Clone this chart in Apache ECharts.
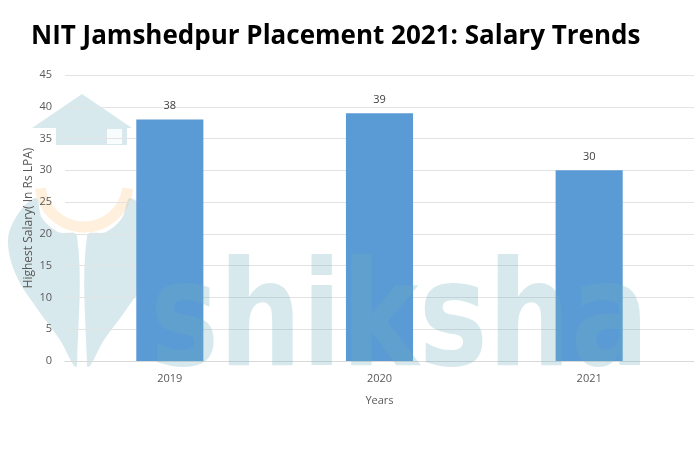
<!DOCTYPE html>
<html>
<head>
<meta charset="utf-8">
<script src="https://cdn.jsdelivr.net/npm/echarts@6/dist/echarts.min.js"></script>
<style>html,body{margin:0;padding:0;background:#fff}#c{width:700px;height:450px}</style>
</head>
<body>
<div id="c"></div>
<script>
var titleText = "NIT Jamshedpur Placement 2021: Salary Trends";
var categories = ["2019", "2020", "2021"];
var highestSalary = [38, 39, 30];
var xAxisName = "Years";
var yAxisName = "Highest Salary( In Rs LPA)";
var yMin = 0, yMax = 45, yStep = 5;
var watermarkText = "shiksha";

var teal = 'rgba(110,175,190,0.27)';
var chart = echarts.init(document.getElementById('c'), null, {renderer: 'canvas'});
chart.setOption({
  backgroundColor: '#ffffff',
  animation: false,
  title: {
    text: titleText,
    left: 26, top: 19,
    textStyle: {fontFamily: 'Open Sans', fontWeight: 'bold', fontSize: 26, color: '#000000'}
  },
  grid: {left: 65, right: 6, top: 75, bottom: 89, containLabel: false},
  xAxis: {
    type: 'category',
    data: categories,
    name: xAxisName,
    nameLocation: 'middle',
    nameGap: 34,
    nameMoveOverlap: false,
    nameTextStyle: {fontFamily: 'Open Sans', fontSize: 11, color: '#595959'},
    axisLine: {lineStyle: {color: '#d9d9d9', width: 1}},
    axisTick: {show: false},
    axisLabel: {fontFamily: 'Open Sans', fontSize: 11, color: '#595959', margin: 12}
  },
  yAxis: {
    type: 'value',
    min: yMin, max: yMax, interval: yStep,
    name: yAxisName,
    nameLocation: 'middle',
    nameGap: 30,
    nameMoveOverlap: false,
    nameTextStyle: {fontFamily: 'Open Sans', fontSize: 12, color: '#595959'},
    axisLine: {show: false},
    axisTick: {show: false},
    axisLabel: {fontFamily: 'Open Sans', fontSize: 11, color: '#595959', margin: 13},
    splitLine: {lineStyle: {color: '#e3e3e3', width: 1}}
  },
  series: [{
    type: 'bar',
    data: highestSalary,
    barWidth: '32%',
    itemStyle: {color: '#5b9bd5'},
    label: {show: true, position: 'top', distance: 8, fontFamily: 'Open Sans', fontSize: 11, color: '#404040'}
  }],
  graphic: [
    {
      type: 'group', silent: true, z: 100,
      children: [
        {type: 'polygon', shape: {points: [[82,94],[132,128],[127,128],[127,145],[56,145],[56,128],[32,128]]}, style: {fill: teal}},
        {type: 'rect', shape: {x: 107, y: 129, width: 15, height: 15}, style: {fill: 'rgba(255,255,255,0.85)'}},
        {type: 'polygon', shape: {smooth: 0.35, points: [[77,236],[58,232],[42,218],[36,198],[18,214],[8,240],[16,275],[38,310],[60,340],[74,366],[77,366]]}, style: {fill: teal}},
        {type: 'polygon', shape: {smooth: 0.35, points: [[87,236],[106,232],[122,218],[130,198],[146,214],[154,240],[148,275],[126,310],[104,340],[90,366],[87,366]]}, style: {fill: teal}},
        {type: 'arc', shape: {cx: 84, cy: 183, r: 44, startAngle: 0.12, endAngle: Math.PI - 0.12, clockwise: true}, style: {stroke: 'rgba(253,185,100,0.22)', lineWidth: 11, fill: null}}
      ]
    },
    {
      type: 'text',
      x: 150, y: 253,
      originX: 0, originY: 0,
      scaleX: 0.79,
      z: 100,
      silent: true,
      style: {
        text: watermarkText,
        font: 'bold 147px "DejaVu Sans"',
        fill: teal
      }
    }
  ]
});
</script>
</body>
</html>
